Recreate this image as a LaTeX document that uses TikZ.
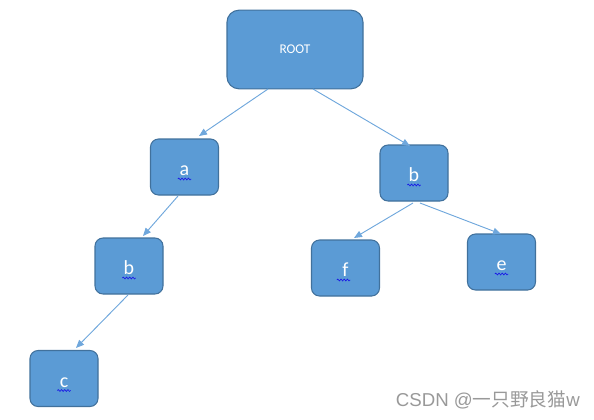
\documentclass[tikz,border=0pt]{standalone}
\usepackage{fontspec}
\setmainfont{Carlito}
\newfontfamily\cjk{Noto Sans CJK SC}
\newfontfamily\wmlatin{Liberation Sans}
\usetikzlibrary{arrows.meta,decorations.pathmorphing}
\definecolor{boxfill}{HTML}{5B9BD5}
\definecolor{boxline}{HTML}{41719C}
\definecolor{arrowc}{HTML}{6FA7DC}
\definecolor{wavy}{HTML}{1A1AE6}
\tikzset{
  treebox/.style={draw=boxline, line width=0.8pt, fill=boxfill, rounded corners=6pt,
    minimum width=51pt, minimum height=42pt, inner sep=0pt, text=white,
    font=\fontsize{15}{15}\selectfont, text height=13pt, text depth=0pt},
  rootbox/.style={draw=boxline, line width=0.8pt, fill=boxfill, minimum width=102pt,
    minimum height=59pt, rounded corners=9pt, inner sep=0pt, text=white,
    font=\fontsize{10}{10}\selectfont},
  link/.style={draw=arrowc, line width=0.7pt, -{Triangle[length=6pt,width=5pt]}},
  squig/.style={draw=wavy, line width=0.5pt, decorate,
    decoration={snake, amplitude=0.7pt, segment length=2.4pt}}
}
\begin{document}
\begin{tikzpicture}[x=0.75pt,y=-0.75pt]
\useasboundingbox (0,0) rectangle (594,419);
\node[rootbox] (root) at (295,49.5) {ROOT};
\node[treebox] (a)  at (184.5,167) {a};
\node[treebox] (b1) at (414,173) {b};
\node[treebox] (b2) at (129,266) {b};
\node[treebox] (f)  at (345.5,268) {f};
\node[treebox] (e)  at (501.5,262) {e};
\node[treebox] (c)  at (64,378.5) {c};
% spelling squiggles
\foreach \n/\dx in {a/0,b1/0,b2/0,f/-2,e/0,c/0}{
  \draw[squig] ([xshift=\dx*0.75pt-5pt,yshift=-9pt]\n.center) -- ([xshift=\dx*0.75pt+5pt,yshift=-9pt]\n.center);
}
\coordinate (r1) at (268,89);
\coordinate (r2) at (313,89);
\coordinate (a1) at (178,196);
\coordinate (bb1) at (128,295);
\coordinate (bf) at (413,203);
\coordinate (be) at (420,203);
\draw[link] (r1) -- (199,136) coordinate (ta);
\draw[link] (r2) -- (410,146) coordinate (tb);
\draw[link] (a1) -- (143,236);
\draw[link] (bb1) -- (76,348);
\draw[link] (bf) -- (354,238);
\draw[link] (be) -- (501,234);
\node[anchor=base east, text=black!40, font=\fontsize{14}{14}\selectfont, inner sep=0pt] (wm) at (580,406) {\wmlatin CSDN @{\cjk 一只野良猫}w};
\end{tikzpicture}
\end{document}
